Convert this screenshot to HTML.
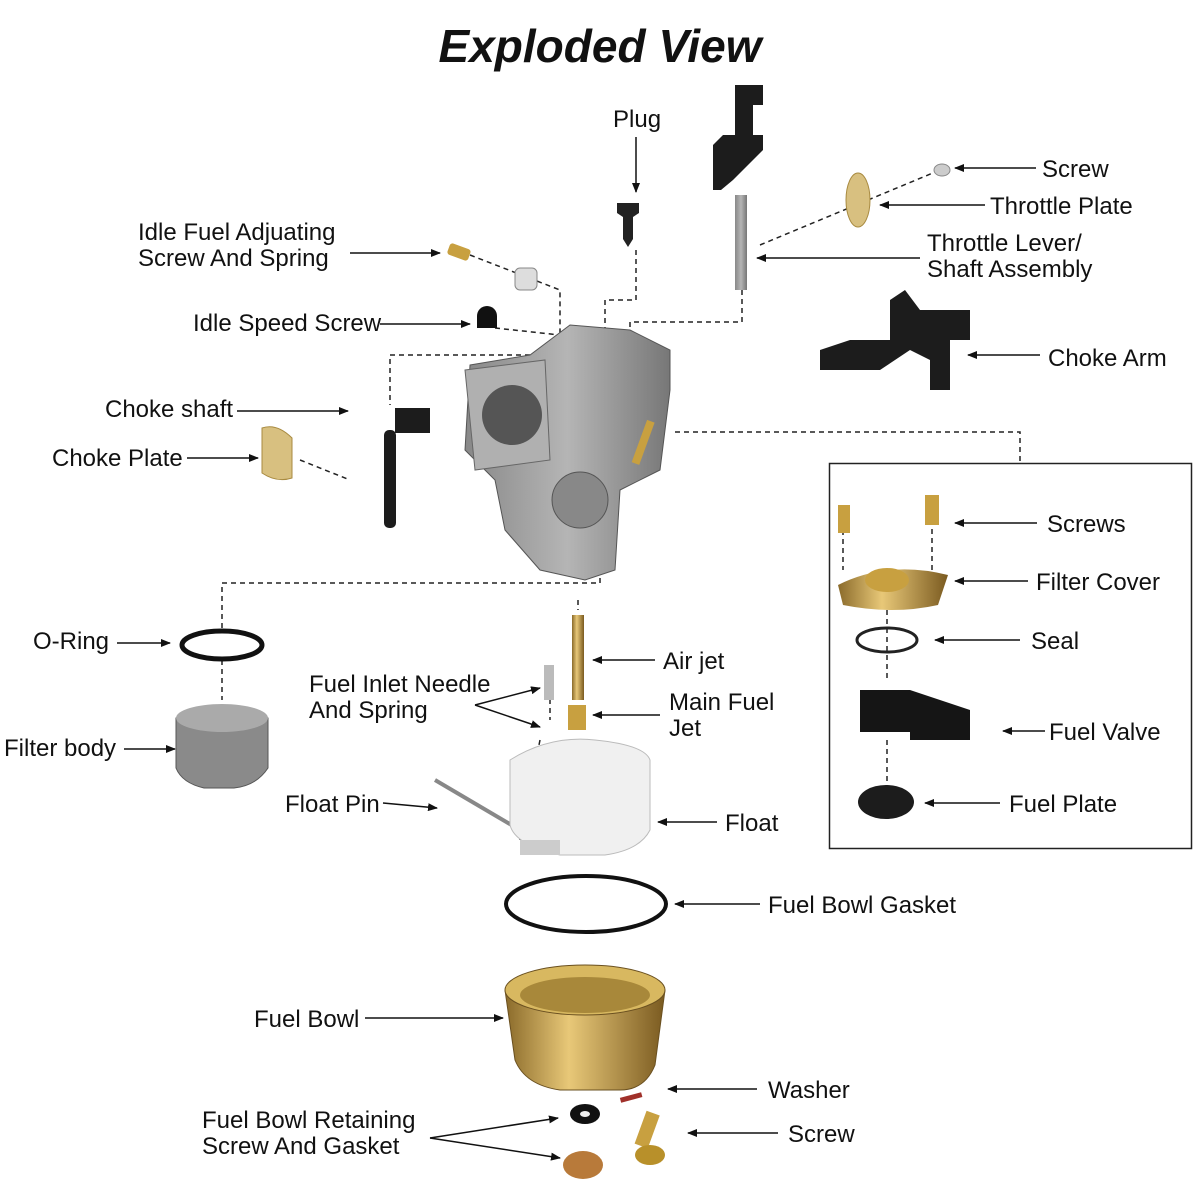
<!DOCTYPE html>
<html><head><meta charset="utf-8"><style>
html,body{margin:0;padding:0;background:#fff}
svg{display:block}
text{font-family:"Liberation Sans",sans-serif;font-size:24px;fill:#111}
</style></head><body>
<svg width="1200" height="1200" viewBox="0 0 1200 1200" xmlns="http://www.w3.org/2000/svg">
<defs>
<marker id="a" markerWidth="10" markerHeight="8" refX="9" refY="4" orient="auto" markerUnits="userSpaceOnUse"><path d="M0,0 L10,4 L0,8 Z" fill="#111"/></marker>
<linearGradient id="gold" x1="0" x2="1"><stop offset="0" stop-color="#8a6a2a"/><stop offset=".4" stop-color="#e8c878"/><stop offset="1" stop-color="#7a5a20"/></linearGradient>
<linearGradient id="gray" x1="0" x2="1"><stop offset="0" stop-color="#888"/><stop offset=".5" stop-color="#b5b5b5"/><stop offset="1" stop-color="#777"/></linearGradient>
</defs>
<text x="600" y="62" text-anchor="middle" style="font-size:46px;font-weight:bold;font-style:italic">Exploded View</text>

<g stroke="#222" stroke-width="1.5" stroke-dasharray="5,4" fill="none">
<path d="M636,250 V300 H605 V330"/>
<path d="M742,290 V322 H630 V335"/>
<path d="M760,245 L940,170"/>
<path d="M470,255 L560,290 V345"/>
<path d="M495,328 L560,335"/>
<path d="M575,355 H390 V405"/>
<path d="M300,460 L350,480"/>
<path d="M675,432 H1020 V463"/>
<path d="M600,560 V583 H222 V630"/>
<path d="M222,660 V700"/>
<path d="M843,530 V570 M932,520 V575 M887,610 V680 M887,740 V790"/>
<path d="M578,600 V610 M550,690 V720 M540,740 L520,840"/>
</g>

<g stroke="#111" stroke-width="1.5" fill="none" marker-end="url(#a)">
<path d="M636,137 V192"/>
<path d="M1036,168 H955"/>
<path d="M985,205 H880"/>
<path d="M920,258 H757"/>
<path d="M350,253 H440"/>
<path d="M380,324 H470"/>
<path d="M1040,355 H968"/>
<path d="M237,411 H348"/>
<path d="M187,458 H258"/>
<path d="M1037,523 H955"/>
<path d="M1028,581 H955"/>
<path d="M1020,640 H935"/>
<path d="M1045,731 H1003"/>
<path d="M1000,803 H925"/>
<path d="M117,643 H170"/>
<path d="M124,749 H175"/>
<path d="M655,660 H593"/>
<path d="M475,705 L540,688"/>
<path d="M475,705 L540,727"/>
<path d="M660,715 H593"/>
<path d="M383,803 L437,808"/>
<path d="M717,822 H658"/>
<path d="M760,904 H675"/>
<path d="M365,1018 H503"/>
<path d="M757,1089 H668"/>
<path d="M778,1133 H688"/>
<path d="M430,1138 L558,1118"/>
<path d="M430,1138 L560,1158"/>
</g>

<rect x="829.5" y="463.5" width="362" height="385" fill="none" stroke="#222" stroke-width="1.5"/>

<text x="613" y="127">Plug</text>
<text x="1042" y="177">Screw</text>
<text x="990" y="214">Throttle Plate</text>
<text x="927" y="251">Throttle Lever/</text>
<text x="927" y="277">Shaft Assembly</text>
<text x="138" y="240">Idle Fuel Adjuating</text>
<text x="138" y="266">Screw And Spring</text>
<text x="193" y="331">Idle Speed Screw</text>
<text x="1048" y="366">Choke Arm</text>
<text x="105" y="417">Choke shaft</text>
<text x="52" y="466">Choke Plate</text>
<text x="1047" y="532">Screws</text>
<text x="1036" y="590">Filter Cover</text>
<text x="1031" y="649">Seal</text>
<text x="1049" y="740">Fuel Valve</text>
<text x="1009" y="812">Fuel Plate</text>
<text x="33" y="649">O-Ring</text>
<text x="4" y="756">Filter body</text>
<text x="663" y="669">Air jet</text>
<text x="309" y="692">Fuel Inlet Needle</text>
<text x="309" y="718">And Spring</text>
<text x="669" y="710">Main Fuel</text>
<text x="669" y="736">Jet</text>
<text x="285" y="812">Float Pin</text>
<text x="725" y="831">Float</text>
<text x="768" y="913">Fuel Bowl Gasket</text>
<text x="254" y="1027">Fuel Bowl</text>
<text x="768" y="1098">Washer</text>
<text x="788" y="1142">Screw</text>
<text x="202" y="1128">Fuel Bowl Retaining</text>
<text x="202" y="1154">Screw And Gasket</text>

<path d="M617,203 h22 v10 l-6,4 v22 l-5,8 l-5,-8 v-22 l-6,-4z" fill="#222"/>
<path d="M735,85 h28 v20 h-10 v30 h10 l0,15 l-30,30 l-12,10 h-8 v-45 l10,-10 h12z" fill="#1c1c1c"/>
<rect x="735" y="195" width="12" height="95" fill="url(#gray)"/>
<ellipse cx="942" cy="170" rx="8" ry="6" fill="#ccc" stroke="#888"/>
<ellipse cx="858" cy="200" rx="12" ry="27" fill="#d8c080" stroke="#a88a40"/>
<rect x="448" y="246" width="22" height="12" rx="3" fill="#c8a040" transform="rotate(20 459 252)"/>
<rect x="515" y="268" width="22" height="22" rx="5" fill="#ddd" stroke="#888"/>
<path d="M477,316 a10,10 0 0 1 20,0 v12 h-20z" fill="#111"/>
<path d="M470,365 l60,-10 l40,-30 l60,5 l40,20 l0,40 l-10,80 l-40,20 l-5,80 l-30,10 l-45,-10 l-35,-40 l-10,-50 l-30,-30 z" fill="url(#gray)" stroke="#555"/>
<path d="M465,370 l80,-10 l5,100 l-75,10 z" fill="#b0b0b0" stroke="#666"/>
<circle cx="512" cy="415" r="30" fill="#555"/>
<circle cx="580" cy="500" r="28" fill="#888" stroke="#555"/>
<rect x="640" y="420" width="8" height="45" fill="#c8a040" transform="rotate(20 644 440)"/>
<path d="M890,300 l15,-10 l15,20 h50 v30 h-20 v50 h-20 v-30 l-20,-10 l-30,20 h-60 v-20 l30,-10 h40z" fill="#1c1c1c"/>
<path d="M355,408 h75 v25 h-35 v-25z" fill="#1c1c1c"/>
<rect x="384" y="430" width="12" height="98" rx="5" fill="#1c1c1c"/>
<path d="M262,428 q15,-5 30,10 v40 q-15,5 -30,-5z" fill="#d8c080" stroke="#a88a40"/>
<rect x="838" y="505" width="12" height="28" fill="#c8a040"/>
<rect x="925" y="495" width="14" height="30" fill="#c8a040"/>
<path d="M838,585 q50,-25 110,-10 l-10,30 q-45,10 -95,0z" fill="url(#gold)"/>
<ellipse cx="887" cy="580" rx="22" ry="12" fill="#c8a040"/>
<ellipse cx="887" cy="640" rx="30" ry="12" fill="none" stroke="#222" stroke-width="3"/>
<path d="M860,690 h50 l60,20 v30 h-60 v-8 h-50z" fill="#151515"/>
<ellipse cx="886" cy="802" rx="28" ry="17" fill="#1c1c1c"/>
<ellipse cx="222" cy="645" rx="40" ry="14" fill="none" stroke="#111" stroke-width="5"/>
<path d="M176,718 q46,-25 92,0 v50 q-12,18 -34,20 h-30 q-22,-5 -28,-20z" fill="#8a8a8a" stroke="#555"/>
<ellipse cx="222" cy="718" rx="46" ry="14" fill="#aaa"/>
<rect x="572" y="615" width="12" height="85" fill="url(#gold)"/>
<rect x="568" y="705" width="18" height="25" fill="#c8a040"/>
<rect x="544" y="665" width="10" height="35" fill="#bbb"/>
<path d="M435,780 L520,830" stroke="#888" stroke-width="4"/>
<path d="M510,760 q40,-25 85,-20 q50,5 55,20 v70 q-10,20 -45,25 h-45 q-45,-10 -50,-30z" fill="#f0f0f0" stroke="#bbb"/>
<path d="M520,840 h40 v15 h-40z" fill="#ccc"/>
<ellipse cx="586" cy="904" rx="80" ry="28" fill="none" stroke="#111" stroke-width="4"/>
<path d="M505,990 q80,-40 160,0 l-10,75 q-10,25 -35,25 h-60 q-35,-5 -45,-30z" fill="url(#gold)" stroke="#6a5020"/>
<ellipse cx="585" cy="990" rx="80" ry="25" fill="#d8b860" stroke="#6a5020"/>
<ellipse cx="585" cy="995" rx="65" ry="18" fill="#a8883a"/>
<ellipse cx="585" cy="1114" rx="15" ry="10" fill="#111"/>
<ellipse cx="585" cy="1114" rx="5" ry="3" fill="#eee"/>
<rect x="620" y="1095" width="22" height="5" fill="#a0302a" transform="rotate(-15 631 1097)"/>
<rect x="640" y="1112" width="14" height="35" fill="#c8a040" transform="rotate(20 647 1130)"/>
<ellipse cx="650" cy="1155" rx="15" ry="10" fill="#b8902a"/>
<ellipse cx="583" cy="1165" rx="20" ry="14" fill="#b87a3a"/>
</svg>
</body></html>
